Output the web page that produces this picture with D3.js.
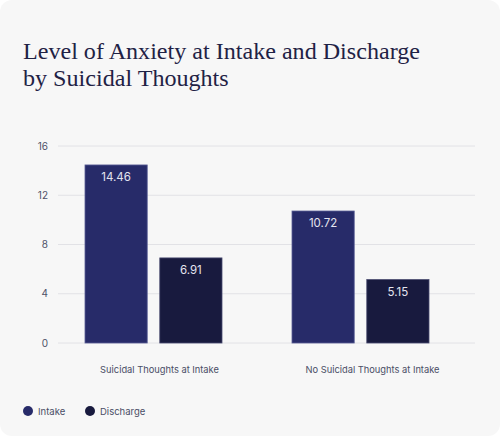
<!DOCTYPE html>
<html><head><meta charset="utf-8">
<script src="https://cdn.jsdelivr.net/npm/d3@7"></script>
<style>
html,body{margin:0;padding:0;background:#ffffff;}
svg{display:block;}
</style></head>
<body>
<svg id="chart" width="500" height="436"></svg>
<script>
const categories = ["Suicidal Thoughts at Intake", "No Suicidal Thoughts at Intake"];
const seriesNames = ["Intake", "Discharge"];
const intakeValues = [14.46, 10.72];
const dischargeValues = [6.91, 5.15];
const yTicks = [0, 4, 8, 12, 16];
const title = ["Level of Anxiety at Intake and Discharge", "by Suicidal Thoughts"];

const colors = {Intake: "#272b69", Discharge: "#181a3e"};
const strokes = {Intake: "#5a5e95", Discharge: "#4a4c70"};
const sans = "Inter, 'Noto Sans', sans-serif";

const svg = d3.select("#chart");
svg.append("rect").attr("x",0).attr("y",0).attr("width",500).attr("height",436)
  .attr("rx",12).attr("fill","#f7f7f7");

const t = svg.append("text").attr("font-family","'Liberation Serif', serif")
  .attr("font-size",24.1).attr("fill","#1f2245");
title.forEach((l,i)=>t.append("tspan").attr("x",23).attr("y",59+i*27).text(l));

const y = d3.scaleLinear().domain([0,16]).range([343,146]);
const x0 = d3.scaleBand().domain(categories).range([50,464]).padding(0);
const x1 = d3.scaleBand().domain(seriesNames).range([35,172]).paddingInner(0.168);
const xLabel = d3.scaleBand().domain(categories).range([53,479]).padding(0);

const g = svg.append("g");
g.selectAll("line.grid").data(yTicks).join("line")
  .attr("x1",58).attr("x2",475).attr("y1",d=>y(d)).attr("y2",d=>y(d))
  .attr("stroke","#e2e2e6").attr("stroke-width",1);

const yAxis = d3.axisLeft(y).tickValues(yTicks).tickSize(0).tickPadding(0);
svg.append("g").attr("transform","translate(48,0)").call(yAxis)
  .call(s=>s.select(".domain").remove())
  .selectAll("text").attr("font-family",sans)
  .attr("font-size",10).attr("fill","#4e5268");

const data = categories.map((c,i)=>({cat:c, vals:[{s:"Intake",v:intakeValues[i]},{s:"Discharge",v:dischargeValues[i]}]}));

const groups = svg.selectAll("g.grp").data(data).join("g")
  .attr("transform",d=>`translate(${x0(d.cat)},0)`);
groups.selectAll("rect").data(d=>d.vals).join("rect")
  .attr("x",d=>x1(d.s)).attr("width",x1.bandwidth())
  .attr("y",d=>y(d.v)).attr("height",d=>y(0)-y(d.v))
  .attr("fill",d=>colors[d.s]).attr("stroke",d=>strokes[d.s]).attr("stroke-width",0.8);
groups.selectAll("text.val").data(d=>d.vals).join("text")
  .attr("class","val")
  .attr("x",d=>x1(d.s)+x1.bandwidth()/2).attr("y",d=>y(d.v)+16)
  .attr("text-anchor","middle").attr("font-family",sans)
  .attr("font-size",11.5).attr("fill","#e4e5f0").text(d=>d.v.toFixed(2));

const xAxis = d3.axisBottom(xLabel).tickSize(0).tickPadding(0);
svg.append("g").attr("transform","translate(0,372.5)").call(xAxis)
  .call(s=>s.select(".domain").remove())
  .selectAll("text").attr("dy",0).attr("font-family",sans)
  .attr("font-size",9.3).attr("fill","#4a4e66");

const legX = [28, 90];
const leg = svg.selectAll("g.leg").data(seriesNames).join("g")
  .attr("transform",(d,i)=>`translate(${legX[i]},411)`);
leg.append("circle").attr("r",5).attr("fill",d=>colors[d]);
leg.append("text").attr("x",10).attr("y",3.5).attr("font-family",sans)
  .attr("font-size",9.5).attr("fill","#4a4e66").text(d=>d);
</script>
</body></html>
